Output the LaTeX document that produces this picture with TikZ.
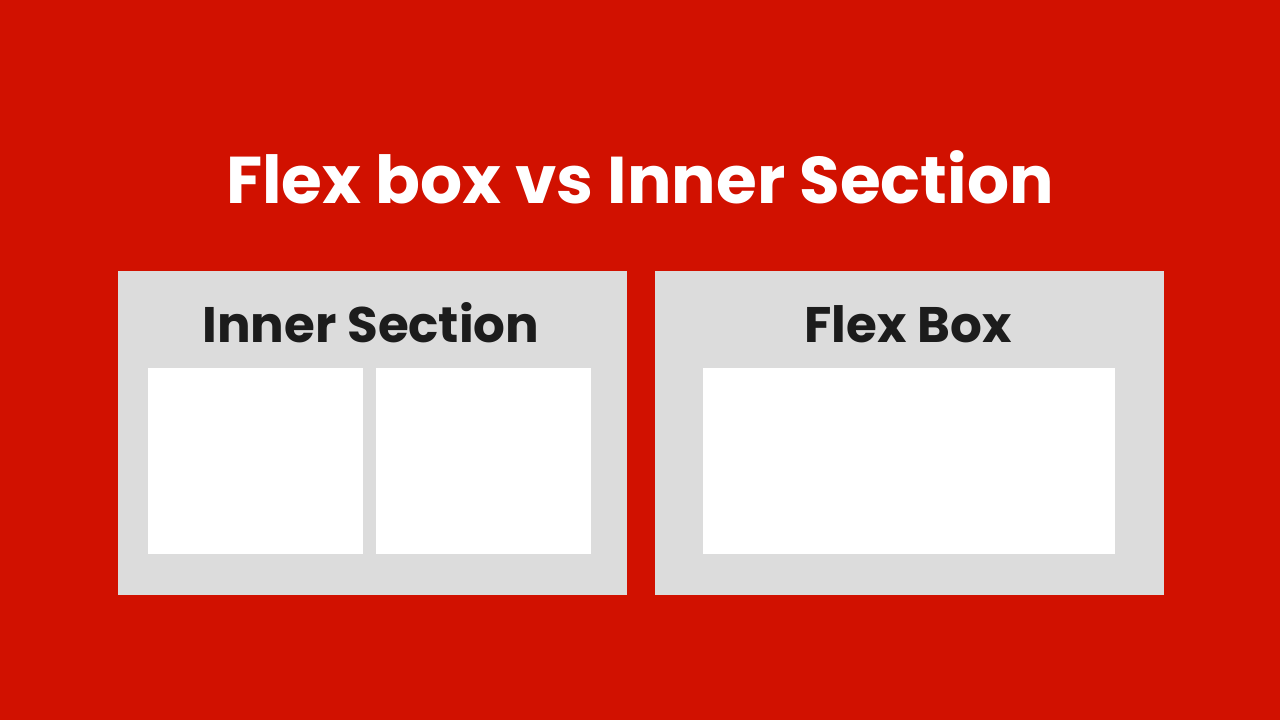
\documentclass[tikz,border=0pt]{standalone}
\usepackage{fontspec}
\setmainfont{Poppins}
\definecolor{bgred}{HTML}{D11100}
\definecolor{panelgrey}{HTML}{DCDCDC}
\definecolor{inkdark}{HTML}{1C1C1C}
\tikzset{
  panel/.style={fill=panelgrey, draw=none, inner sep=0pt, anchor=north west,
    minimum width=5.08cm, minimum height=3.24cm},
  slot/.style={fill=white, draw=none, inner sep=0pt, anchor=north west,
    minimum height=1.86cm},
  heading/.style={text=inkdark, font=\fontsize{14.2}{17}\selectfont\bfseries, anchor=base}
}
\begin{document}
\begin{tikzpicture}[x=0.01cm,y=-0.01cm] %pixel grid
  %fundo
  \fill[bgred] (0,0) rectangle (1280,720);
  \useasboundingbox (0,0) rectangle (1280,720);
  %titulo
  \node[text=white, font=\fontsize{18.8}{22}\selectfont\bfseries, anchor=base] (title) at (640,203) {Flex box vs Inner Section};
  %painel esquerdo
  \node[panel] (inner) at (117.5,270.5) {};
  \node[heading] (innerhead) at (371,342) {Inner Section};
  \node[slot, minimum width=2.15cm] (innerA) at (147.5,367.5) {};
  \node[slot, minimum width=2.15cm] (innerB) at (375.5,367.5) {};
  %painel direito
  \node[panel] (flex) at (654.5,270.5) {};
  \node[heading] (flexhead) at (908,342) {Flex Box};
  \node[slot, minimum width=4.12cm] (flexA) at (702.5,367.5) {};
\end{tikzpicture}
\end{document}
